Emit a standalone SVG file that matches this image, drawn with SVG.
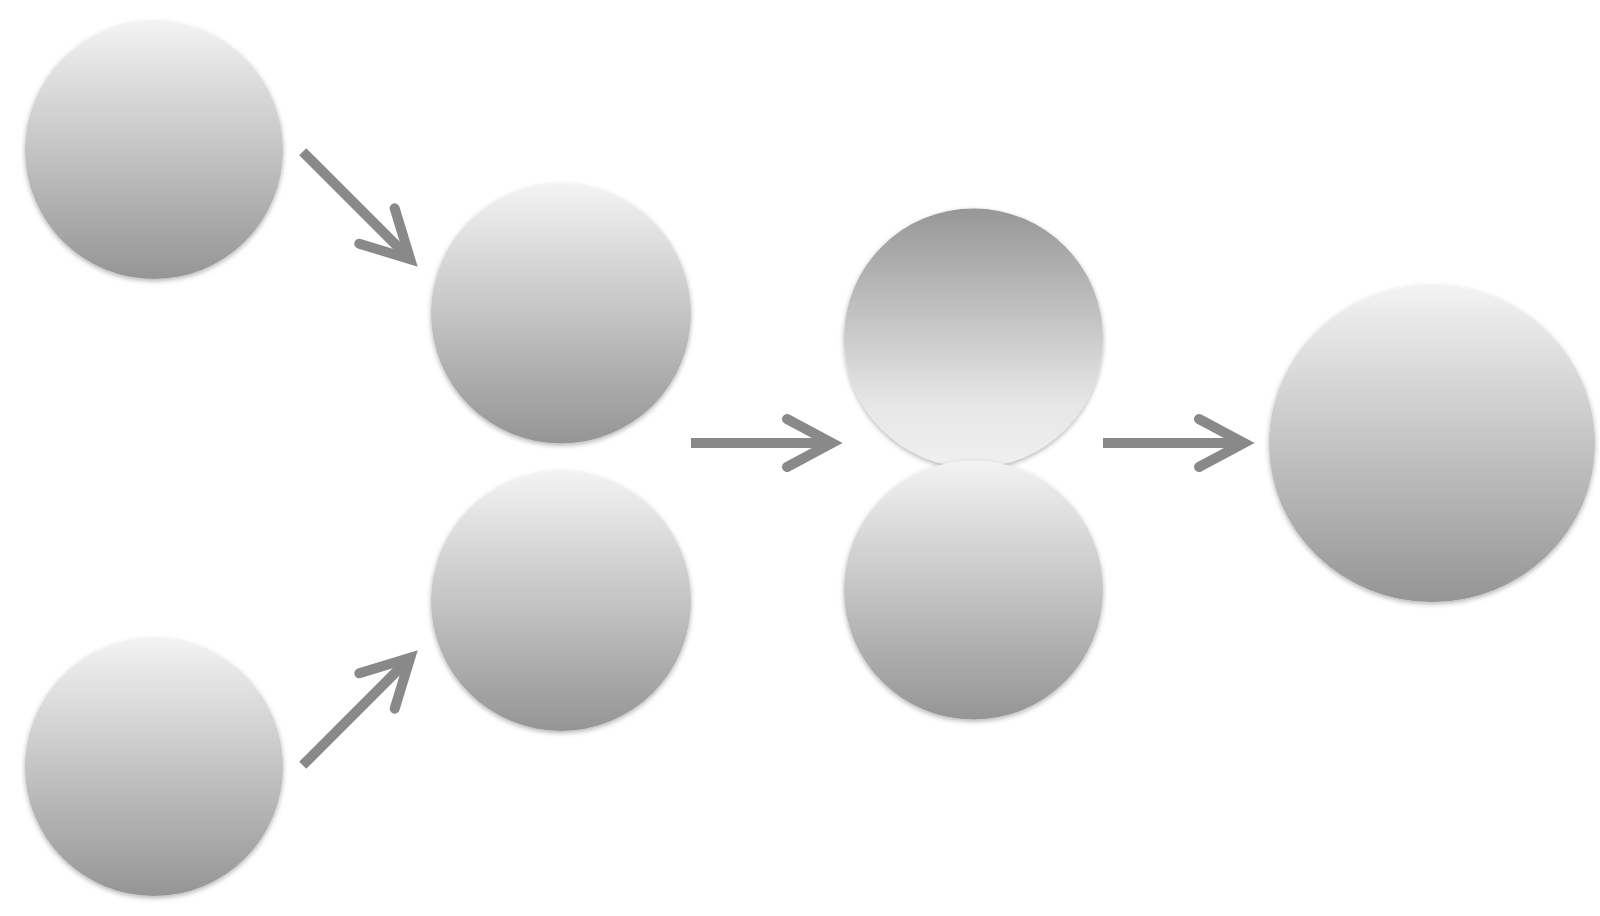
<svg xmlns="http://www.w3.org/2000/svg" width="1600" height="916" viewBox="0 0 1600 916">
  <defs>
    <linearGradient id="gDown" x1="0" y1="0" x2="0" y2="1">
      <stop offset="0" stop-color="#f3f3f3"/>
      <stop offset="1" stop-color="#959595"/>
    </linearGradient>
    <linearGradient id="gUp" x1="0" y1="0" x2="0" y2="1">
      <stop offset="0" stop-color="#979797"/>
      <stop offset="0.75" stop-color="#e6e6e6"/>
      <stop offset="1" stop-color="#f0f0f0"/>
    </linearGradient>
    <filter id="shadow" x="-10%" y="-10%" width="120%" height="125%">
      <feDropShadow dx="0" dy="2" stdDeviation="2.5" flood-color="#000" flood-opacity="0.3"/>
    </filter>
  </defs>
  <style>
    .node { fill: url(#gDown); filter: url(#shadow); }
    .node.rev { fill: url(#gUp); }
    .shaft { fill: none; stroke: #898989; stroke-width: 10; stroke-linecap: butt; }
    .head { fill: none; stroke: #898989; stroke-width: 10; stroke-linecap: round; stroke-linejoin: miter; stroke-miterlimit: 10; }
  </style>
  <rect width="1600" height="916" fill="#ffffff"/>

  <g id="node-1"><circle class="node" cx="154" cy="150" r="129"/></g>
  <g id="node-2"><circle class="node" cx="154" cy="767" r="129"/></g>
  <g id="node-3"><circle class="node" cx="561" cy="313.5" r="130"/></g>
  <g id="node-4"><circle class="node" cx="561" cy="601" r="130"/></g>
  <g id="node-5"><circle class="node rev" cx="973.5" cy="338" r="129.5"/></g>
  <g id="node-6"><circle class="node" cx="973.5" cy="590" r="129.5"/></g>
  <g id="node-7"><ellipse class="node" cx="1432" cy="443.5" rx="163" ry="158.5"/></g>

  <g id="connectors">
    <g transform="translate(418,267) rotate(45)">
      <path class="shaft" d="M-163,0 L-14,0"/>
      <path class="head" d="M-58,-25 L-11,0 L-58,25"/>
    </g>
    <g transform="translate(418,650) rotate(-45)">
      <path class="shaft" d="M-163,0 L-14,0"/>
      <path class="head" d="M-58,-25 L-11,0 L-58,25"/>
    </g>
    <g transform="translate(843,443)">
      <path class="shaft" d="M-152,0 L-14,0"/>
      <path class="head" d="M-56,-24 L-11,0 L-56,24"/>
    </g>
    <g transform="translate(1255,443)">
      <path class="shaft" d="M-152,0 L-14,0"/>
      <path class="head" d="M-56,-24 L-11,0 L-56,24"/>
    </g>
  </g>
</svg>
